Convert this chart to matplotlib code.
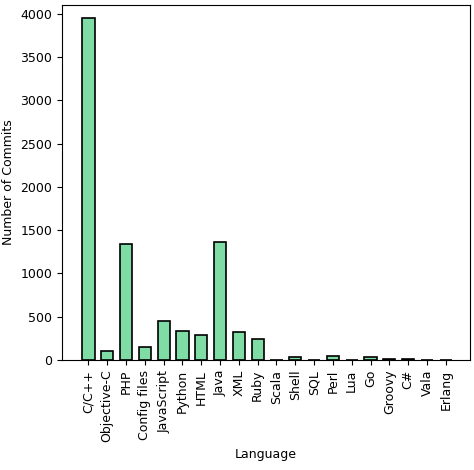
import matplotlib
matplotlib.use('Agg')
from matplotlib import pyplot as plt

plt.rcParams['font.size'] = 9

languages = ['C/C++', 'Objective-C', 'PHP', 'Config files', 'JavaScript', 'Python', 'HTML',
             'Java', 'XML', 'Ruby', 'Scala', 'Shell', 'SQL', 'Perl', 'Lua', 'Go', 'Groovy',
             'C#', 'Vala', 'Erlang']
commits = [3950, 100, 1340, 150, 450, 340, 290, 1360, 320, 240, 0, 30, 0, 50, 0, 30, 15, 15, 0, 0]

fig = plt.figure(figsize=(4.74, 4.70), dpi=100)
ax = fig.add_axes([0.131, 0.234, 0.861, 0.755])
ax.bar(range(len(languages)), commits, width=0.65, color='#7fdca4', edgecolor='black', linewidth=1.2)
ax.set_xticks(range(len(languages)))
ax.set_xticklabels(languages, rotation=90)
ax.set_xlim(-1.4, len(languages) + 0.3)
ax.set_ylim(0, 4100)
ax.set_yticks(range(0, 4001, 500))
ax.set_xlabel('Language')
ax.set_ylabel('Number of Commits')
fig.savefig('out.png', dpi=100)
